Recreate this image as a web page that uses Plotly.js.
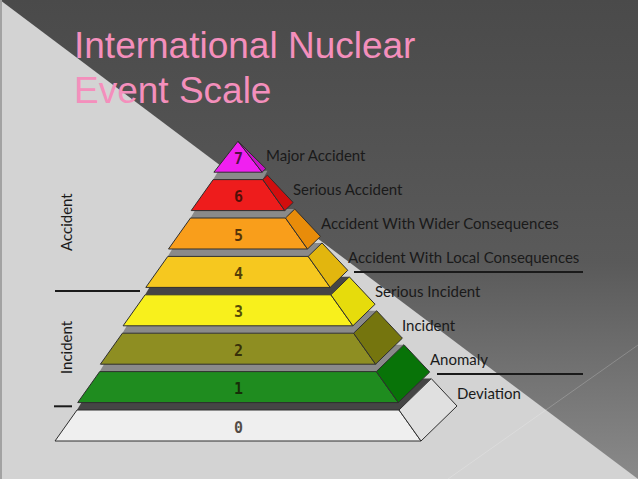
<!DOCTYPE html>
<html><head><meta charset="utf-8">
<script src="https://cdn.plot.ly/plotly-3.0.1.min.js"></script>
<style>html,body{margin:0;padding:0;background:#d3d3d3;overflow:hidden}#chart{width:638px;height:479px}</style>
</head><body><div id="chart"></div>
<script>
// ---- data ----
const levels = [0, 1, 2, 3, 4, 5, 6, 7];
const levelLabels = ["Deviation", "Anomaly", "Incident", "Serious Incident",
  "Accident With Local Consequences", "Accident With Wider Consequences",
  "Serious Accident", "Major Accident"];
const frontColors = ["#efefef", "#1f8c1f", "#8e8e22", "#f8f01c", "#f6c81f", "#f99e1b", "#ee1c1c", "#f020f0"];
const sideColors  = ["#e0e0e0", "#087308", "#75750e", "#e6dc0c", "#e2b60e", "#e88c0a", "#d20e0e", "#c812c8"];
const topColors   = ["#454545", "#8a8a8a", "#8a8a8a", "#454545", "#8a8a8a", "#8a8a8a", "#8a8a8a", null];
const groupNames  = ["Incident", "Accident"];
const groupLevels = [[1, 3], [4, 7]];
const titleLines  = ["International Nuclear", "Event Scale"];

// ---- layout constants (pixel space) ----
const W = 638, H = 479;
const CX = 238, BASE = 441, STEP = 38.4, FACE = 31, HB0 = 183, DH = 22.7, TAPER = 22;
const APEX = BASE - STEP * (levels.length - 1) - FACE;
const OFFX = 36, OFFY = 35, GAP = STEP - FACE;
const depth = y => (y - APEX) / (BASE - APEX);

const traces = [];
function poly(xs, ys, fill, lw) {
  traces.push({type: 'scatter', mode: 'lines', x: xs.concat([xs[0]]), y: ys.concat([ys[0]]),
    fill: 'toself', fillcolor: fill, line: {color: '#2e2e2e', width: lw}, hoverinfo: 'skip'});
}

// background dark triangle with gradient
traces.push({type: 'scatter', mode: 'lines', x: [0, W, W, 0], y: [0, 0, H, 0], fill: 'toself',
  line: {width: 0, color: 'rgba(0,0,0,0)'}, hoverinfo: 'skip',
  fillgradient: {type: 'vertical', start: 0, stop: H,
    colorscale: [[0, '#4a4a4a'], [0.55, '#5a5a5a'], [1, '#8a8a8a']]}});

const annotations = [];
levels.forEach((lv, i) => {
  const yb = BASE - STEP * i, yt = yb - FACE;
  const hb = HB0 - DH * i;
  const ht = (i === levels.length - 1) ? 0 : hb - TAPER;
  const sb = depth(yb), st = depth(yt);
  // top face (visible strip)
  if (topColors[i]) {
    const g = Math.max(OFFY * st, GAP + 1.5);
    poly([CX - ht, CX + ht, CX + ht + OFFX * st, CX - ht + g * DH / STEP],
         [yt, yt, yt - g, yt - g], topColors[i], 0);
  }
  // front face
  if (ht > 0) poly([CX - hb, CX + hb, CX + ht, CX - ht], [yb, yb, yt, yt], frontColors[i], 1);
  else poly([CX - hb, CX + hb, CX], [yb, yb, yt], frontColors[i], 1);
  // right side face
  if (ht > 0) poly([CX + hb, CX + hb + OFFX * sb, CX + ht + OFFX * st, CX + ht],
                   [yb, yb - OFFY * sb, yt - OFFY * st, yt], sideColors[i], 1);
  else poly([CX + hb, CX + hb + OFFX * sb, CX], [yb, yb - OFFY * sb, yt], sideColors[i], 1);
  // level number
  annotations.push({x: CX, y: yb - FACE / 2 + 2, xref: 'x', yref: 'y', text: String(lv), showarrow: false,
    font: {family: 'DejaVu Sans Mono', size: 15, weight: 'bold', color: 'rgba(20,10,0,0.72)'}});
  // right label
  annotations.push({x: 455 - 27.3 * i, y: 393 - 34 * i, xref: 'x', yref: 'y', text: levelLabels[i],
    showarrow: false, xanchor: 'left', yanchor: 'middle',
    font: {family: 'Lato', size: 15, color: '#1a1a1a'}});
});

// group labels (left, rotated)
const groupY = [347, 222];
groupNames.forEach((g, k) => {
  annotations.push({x: 66, y: groupY[k], xref: 'x', yref: 'y', text: g, showarrow: false, textangle: -90,
    font: {family: 'Lato', size: 15, color: '#1a1a1a'}});
});

// title
titleLines.forEach((t, k) => {
  annotations.push({x: 72, y: 45 + 45 * k, xref: 'x', yref: 'y', text: t, showarrow: false,
    xanchor: 'left', yanchor: 'middle',
    font: {family: 'Liberation Sans', size: 37, color: '#f48fbc'}});
});

// separator lines
const gapMid = i => BASE - STEP * i - FACE - GAP / 2;
const shapes = [
  {type: 'line', x0: 55, x1: 140, y0: gapMid(groupLevels[0][1]), y1: gapMid(groupLevels[0][1]), line: {color: '#1a1a1a', width: 2}},
  {type: 'line', x0: 54, x1: 72, y0: gapMid(groupLevels[0][0] - 1), y1: gapMid(groupLevels[0][0] - 1), line: {color: '#1a1a1a', width: 2}},
  {type: 'line', x0: 354, x1: 583, y0: 272, y1: 272, line: {color: '#1a1a1a', width: 2}},
  {type: 'line', x0: 437, x1: 583, y0: 374, y1: 374, line: {color: '#1a1a1a', width: 2}},
  {type: 'line', x0: W, x1: 448, y0: 345, y1: H, line: {color: 'rgba(255,255,255,0.2)', width: 1}, layer: 'above'},
  {type: 'line', x0: 1, x1: 1, y0: 0, y1: H, line: {color: '#a2a2a2', width: 2}}
];

const layout = {
  width: W, height: H, margin: {l: 0, r: 0, t: 0, b: 0, pad: 0},
  paper_bgcolor: '#d3d3d3', plot_bgcolor: 'rgba(0,0,0,0)', showlegend: false, hovermode: false,
  xaxis: {range: [0, W], visible: false, fixedrange: true},
  yaxis: {range: [H, 0], visible: false, fixedrange: true},
  annotations: annotations, shapes: shapes
};
Plotly.newPlot('chart', traces, layout, {staticPlot: true, displayModeBar: false});
</script></body></html>
